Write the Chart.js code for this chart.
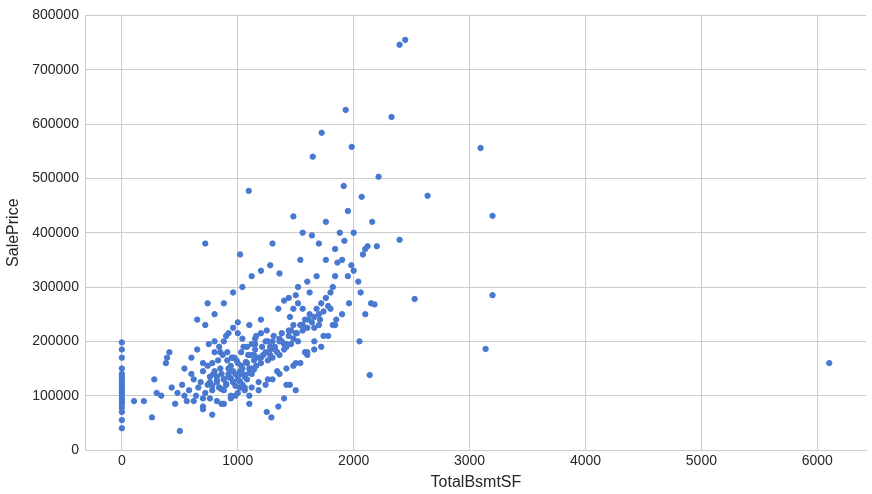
<!DOCTYPE html>
<html><head><meta charset="utf-8">
<script src="https://cdn.jsdelivr.net/npm/chart.js@4"></script>
<style>html,body{margin:0;padding:0;background:#fff}#w{width:872px;height:494px}</style>
</head><body><div id="w"><canvas id="c"></canvas></div>
<script>
const xTicks=[0,1000,2000,3000,4000,5000,6000];
const yTicks=[0,100000,200000,300000,400000,500000,600000,700000,800000];
const bsmtSF=[
0,0,0,0,0,0,0,0,0,0,0,0,0,0,0,0,0,0,0,0,
105,190,260,280,300,340,380,390,410,430,460,480,500,520,540,560,580,600,620,640,
660,680,700,720,740,760,780,800,820,840,860,880,900,920,940,960,980,1000,1020,1040,
1060,1080,1100,1120,1140,1160,1180,1200,1220,1240,1260,1280,1300,1320,1340,1360,1380,1400,1420,1440,
1460,1480,1500,1520,1540,1560,1580,1600,1620,1640,1660,1680,1700,1720,1740,1760,1780,1800,1820,1840,
600,650,700,750,800,850,900,950,1000,1050,1100,1150,1200,1250,1300,1350,1400,1450,1500,1550,
700,760,820,880,940,1000,1060,1120,1180,1240,1300,1360,1420,1480,1540,1600,1660,1720,1780,1840,
540,620,700,780,860,940,1020,1100,1180,1260,1340,1420,1500,1580,1660,1740,1820,1900,1960,2040,
720,800,880,960,1040,1120,1200,1280,1360,1440,1520,1600,1680,1760,1840,1920,2000,2080,2120,2160,
880,920,960,1000,1040,880,920,960,1000,1040,1080,1120,840,900,980,1060,760,820,1140,1200,
650,740,1020,1300,1480,1560,1640,1700,1760,1880,1950,2000,2100,1900,1860,1620,1540,1480,1380,1280,
2445,2396,1931,2327,1724,1983,3095,1647,2215,1095,2638,2069,1914,3198,6103,3198,3138,2526,2138,2396,
720,1290,1100,2050,2100,2150,1950,1800,1850,1700,1600,1500,1450,1400,1350,1250,2200,2180,2060,1980,
780,820,860,900,940,980,1020,1060,1100,1140,780,830,870,910,950,990,1030,1070,1110,1150,
700,740,790,850,910,970,1030,1090,1150,1210,1260,1310,1360,1420,1460,1510,1560,1610,1660,1710,
800,840,880,920,960,1000,1040,1080,1120,1160,1200,1240,1280,1320,1360,1400,1440,1480,1520,1560
];
const salePrice=[
40000,55000,70000,78000,85000,90000,95000,100000,105000,110000,115000,120000,125000,130000,135000,140000,150000,170000,185000,198000,
90000,90000,60000,130000,105000,100000,160000,170000,180000,115000,85000,105000,35000,120000,150000,90000,110000,140000,130000,100000,
115000,125000,95000,105000,120000,135000,110000,145000,125000,115000,140000,130000,120000,135000,155000,125000,140000,130000,145000,150000,
135000,160000,150000,140000,165000,155000,170000,160000,175000,180000,165000,185000,170000,190000,180000,175000,200000,185000,190000,210000,
195000,205000,215000,200000,230000,220000,240000,225000,250000,235000,245000,260000,250000,270000,255000,280000,265000,290000,300000,320000,
170000,185000,160000,195000,200000,180000,210000,170000,215000,190000,230000,205000,240000,220000,200000,260000,275000,245000,285000,230000,
80000,95000,90000,85000,100000,105000,110000,115000,125000,120000,130000,140000,150000,155000,160000,175000,185000,190000,210000,230000,
100000,90000,75000,65000,85000,95000,115000,100000,110000,130000,145000,120000,160000,180000,200000,210000,230000,250000,270000,310000,
230000,250000,270000,290000,300000,320000,330000,340000,325000,280000,300000,310000,320000,350000,370000,385000,330000,360000,375000,420000,
130000,140000,125000,135000,120000,110000,150000,145000,160000,140000,130000,150000,115000,120000,100000,115000,125000,135000,175000,170000,
240000,270000,360000,380000,430000,400000,395000,380000,420000,400000,440000,400000,370000,350000,345000,290000,350000,260000,215000,190000,
755000,746000,626000,613000,584000,558000,556000,540000,503000,477000,468000,466000,486000,431000,160000,285000,186000,278000,138000,387000,
380000,60000,85000,200000,250000,270000,320000,260000,240000,230000,180000,110000,120000,95000,80000,70000,375000,268000,290000,340000,
118000,128000,112000,122000,132000,118000,126000,138000,142000,148000,160000,165000,175000,180000,170000,165000,155000,162000,175000,185000,
145000,155000,140000,150000,165000,170000,180000,175000,195000,190000,200000,210000,205000,195000,220000,215000,230000,240000,225000,240000,
180000,190000,200000,215000,225000,235000,205000,190000,195000,210000,215000,200000,175000,185000,200000,195000,220000,230000,270000,260000
];
new Chart(document.getElementById('c'),{
type:'scatter',
data:{datasets:[{data:bsmtSF.map((v,i)=>({x:v,y:salePrice[i]})),backgroundColor:'#4878d0',borderColor:'#4878d0',pointRadius:2.7,pointHoverRadius:2.7}]},
options:{responsive:true,maintainAspectRatio:false,animation:false,
layout:{padding:{top:0,right:6,left:0,bottom:0}},
plugins:{legend:{display:false},tooltip:{enabled:false}},
scales:{
x:{type:'linear',min:-310,max:6420,afterBuildTicks:a=>{a.ticks=xTicks.map(v=>({value:v}));},
 grid:{color:'#cccccc',drawTicks:false},border:{color:'#cccccc'},
 ticks:{color:'#262626',font:{family:'Liberation Sans',size:14},padding:3,callback:v=>String(v)},
 title:{display:true,text:'TotalBsmtSF',color:'#262626',font:{family:'Liberation Sans',size:16},padding:{top:0,bottom:2}}},
y:{min:0,max:800000,afterBuildTicks:a=>{a.ticks=yTicks.map(v=>({value:v}));},
 grid:{color:'#cccccc',drawTicks:false},border:{color:'#cccccc'},
 ticks:{color:'#262626',font:{family:'Liberation Sans',size:14},padding:7,callback:v=>String(v)},
 title:{display:true,text:'SalePrice',color:'#262626',font:{family:'Liberation Sans',size:16},padding:{bottom:2}}}
}}});
</script></body></html>
